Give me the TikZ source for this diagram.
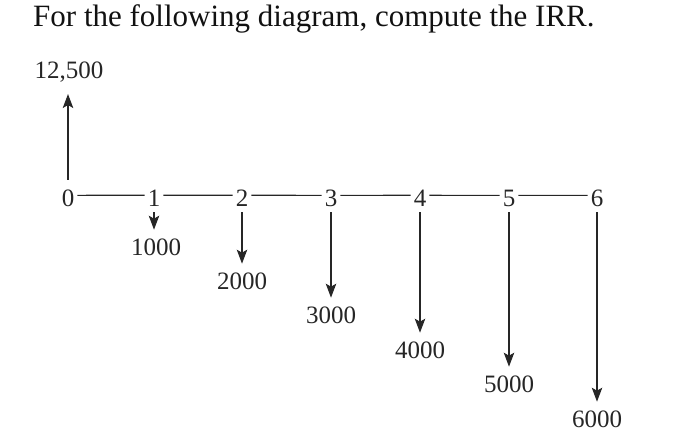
\documentclass[tikz,border=0pt]{standalone}
\usepackage{fontspec}
\setmainfont{Liberation Serif}
\usetikzlibrary{arrows.meta,calc}
\definecolor{ink}{HTML}{262626}
\definecolor{titleink}{HTML}{111111}
\tikzset{
  lbl/.style={inner sep=0pt, anchor=base, text=ink, font=\fontsize{25}{29}\selectfont},
  axis/.style={draw=ink, line width=1.1pt},
  flow/.style={draw=ink, line width=1.1pt, -{Stealth[length=14pt,width=10.5pt,inset=3pt]}}
}
\begin{document}
\begin{tikzpicture}[x=1pt,y=-1pt]
\path[use as bounding box] (0,0) rectangle (700,435);
\node[anchor=base west, inner sep=0pt, text=titleink, font=\fontsize{31}{36}\selectfont] (title) at (33,27) {For the following diagram, compute the IRR.};
% period labels
\node[lbl] (t0) at (68,206.5) {0};
\node[lbl] (t1) at (154,206.5) {1};
\node[lbl] (t2) at (242,206.5) {2};
\node[lbl] (t3) at (331,206.5) {3};
\node[lbl] (t4) at (420,206.5) {4};
\node[lbl] (t5) at (509,206.5) {5};
\node[lbl] (t6) at (597,206.5) {6};
% amounts
\node[lbl] (a0) at (69,79) {12,500};
\node[lbl] (a1) at (156,255) {1000};
\node[lbl] (a2) at (242,289) {2000};
\node[lbl] (a3) at (331,323) {3000};
\node[lbl] (a4) at (420,358) {4000};
\node[lbl] (a5) at (509,392) {5000};
\node[lbl] (a6) at (597,427) {6000};
% time axis
\foreach \i/\j in {0/1,1/2,2/3,3/4,4/5,5/6}{
  \draw[axis] ([shift={(3,-3)}]t\i.east) -- ([shift={(-3,-3)}]t\j.west);
}
% cash flows
\draw[flow] ([yshift=10pt]t0.north) -- ($(t0.north |- a0.south)+(0,11)$);
\foreach \i in {1,...,6}{
  \draw[flow] ([yshift=-5.5pt]t\i.south) -- ($(t\i.south |- a\i.north)+(0,-8.5)$);
}
\end{tikzpicture}
\end{document}
